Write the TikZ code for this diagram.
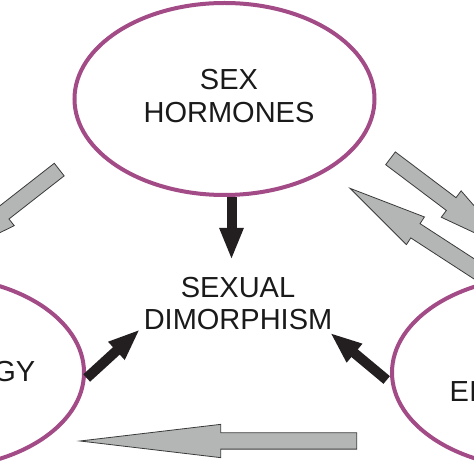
\documentclass[tikz,border=0pt]{standalone}
\usepackage{fontspec}
\setmainfont{Liberation Sans}
\usetikzlibrary{shapes.geometric,arrows.meta}
\definecolor{ringc}{HTML}{A24B86}
\definecolor{arrgray}{HTML}{B4B6B6}
\definecolor{arrline}{HTML}{3A3A3A}
\definecolor{blk}{HTML}{231F20}
\definecolor{txt}{HTML}{1A1A1A}
\newcommand\blockarrow[7]{% tip x, tip y, angle, head length, head width, shaft length, shaft width
  \draw[grayarrow, shift={(#1,#2)}, rotate=#3] (0,0) -- ({-#4},{#5/2}) -- ({-#4},{#7/2}) -- ({-#4-#6},{#7/2}) -- ({-#4-#6},{-#7/2}) -- ({-#4},{-#7/2}) -- ({-#4},{-#5/2}) -- cycle;}
\tikzset{
  ring/.style={ellipse, draw=ringc, line width=4pt, minimum width=300pt, minimum height=192pt, inner sep=0pt},
  lbl/.style={font=\fontsize{29}{32.5}\selectfont, align=center, inner sep=0pt, text=txt},
  blackarrow/.style={draw=blk, line width=10pt, -{Triangle[length=32pt,width=22pt]}},
  grayarrow/.style={fill=arrgray, draw=arrline, line width=0.8pt, line join=miter}
}
\begin{document}
\begin{tikzpicture}[x=1pt,y=1pt]
\useasboundingbox (0,0) rectangle (474,474);
\clip (0,0) rectangle (474,474);
\fill[white] (0,0) rectangle (474,474);
% ellipses
\node[ring] (top) at (224.5,375) {};
\node[ring] (left) at (-66,101.5) {};
\node[ring] (right) at (542,101.5) {};
% texts
\node[lbl] (sh) at (229,378) {SEX\\HORMONES};
\node[lbl] (sd) at (238,170.5) {SEXUAL\\DIMORPHISM};
\node[lbl, anchor=base east] (gy) at (35.5,92.3) {GY};
\node[lbl, anchor=base west] (ei) at (449.5,72.3) {EI};
% black arrows
\coordinate (d1) at (231.5,277); \coordinate (d2) at (231.5,214);
\coordinate (l1) at (86.7,96);   \coordinate (l2) at (140,144.7);
\coordinate (r1) at (386.7,94);  \coordinate (r2) at (330,141.3);
\draw[blackarrow] (d1) -- (d2);
\draw[blackarrow] (l1) -- (l2);
\draw[blackarrow] (r1) -- (r2);
% gray block arrows
\blockarrow{80}{33}{180}{140.7}{33.3}{136}{16.3}
\blockarrow{350}{285.7}{147}{78}{33}{200}{17}
\blockarrow{513.5}{223}{-37}{78}{33}{76}{16}
\blockarrow{-57.4}{213.3}{218}{78}{33}{70}{16}
\end{tikzpicture}
\end{document}
